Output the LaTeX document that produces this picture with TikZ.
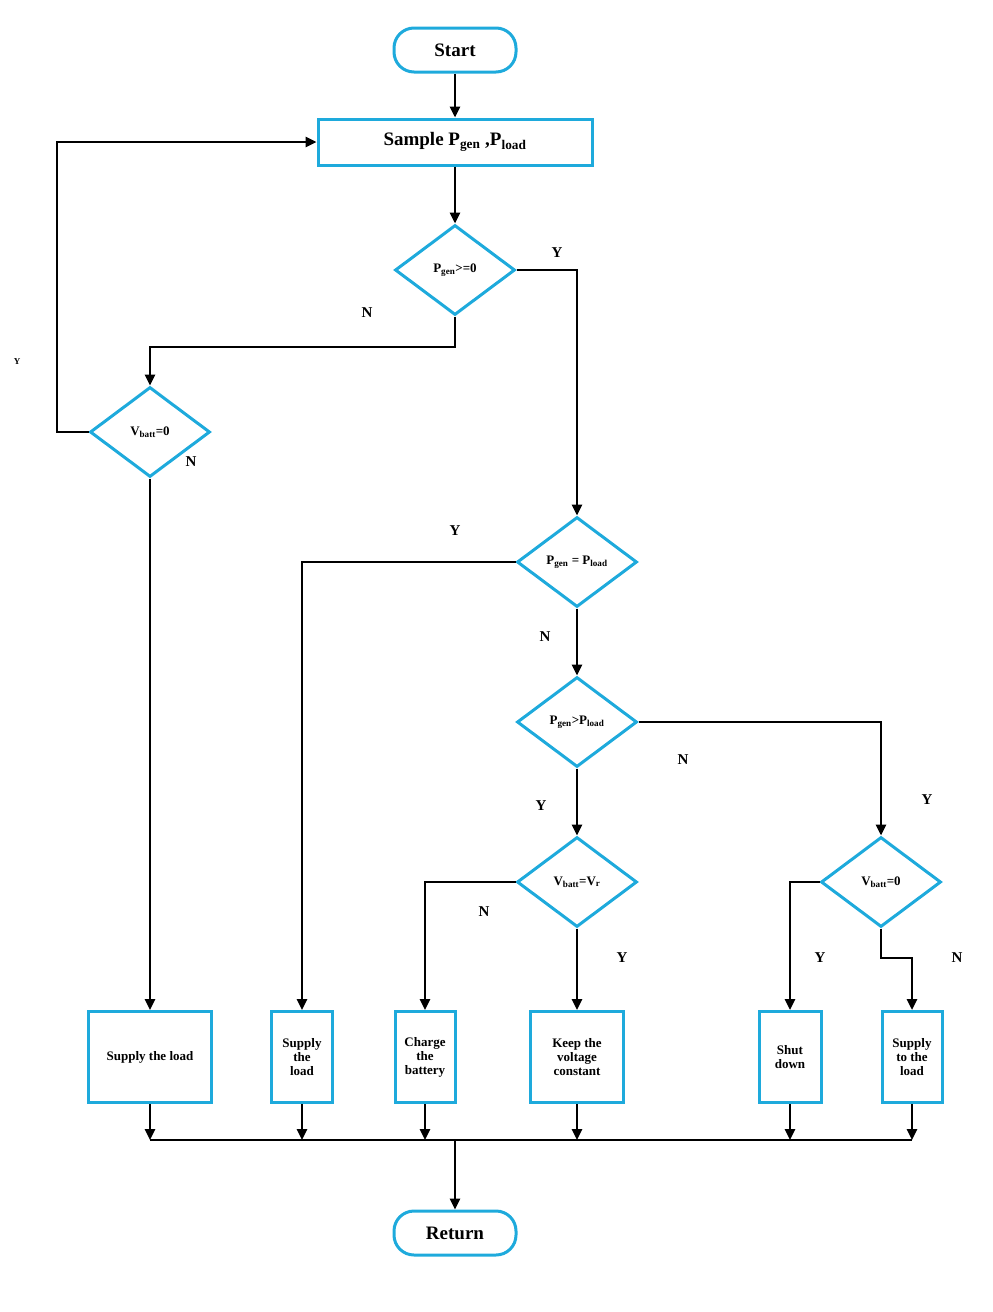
\documentclass[tikz,border=0pt]{standalone}
\usepackage{fontspec}
\setmainfont{Liberation Serif}
\usetikzlibrary{shapes.geometric,arrows.meta}
\definecolor{cy}{RGB}{30,170,220}
\begin{document}
\begin{tikzpicture}[x=1pt,y=-1pt,
 every node/.style={font=\bfseries\fontsize{13}{14}\selectfont},
 term/.style={draw=cy,line width=3pt,rounded corners=20pt,minimum width=122pt,minimum height=44pt,font=\bfseries\fontsize{19}{20}\selectfont},
 box/.style={draw=cy,line width=3pt,inner sep=1pt,align=center},
 dia/.style={draw=cy,line width=3pt,diamond,aspect=1.33,minimum width=120pt,minimum height=90pt,inner sep=0pt},
 ar/.style={draw,line width=2.6pt,-{Triangle[length=11pt,width=10pt]}},
 ln/.style={draw,line width=2.6pt},
 lab/.style={font=\bfseries\fontsize{15}{16}\selectfont}]
\useasboundingbox (0,0) rectangle (993,1312);
\node[term] (start) at (455,50) {Start};
\node[box,minimum width=274pt,minimum height=46pt,font=\bfseries\fontsize{19}{20}\selectfont] (samp) at (455,142) {Sample P\textsubscript{gen} ,P\textsubscript{load}};
\node[dia] (d1) at (455,270) {P\textsubscript{gen}>=0};
\node[dia] (d2) at (150,432) {V\textsubscript{batt}=0};
\node[dia] (d3) at (577,562) {P\textsubscript{gen} = P\textsubscript{load}};
\node[dia] (d4) at (577,722) {P\textsubscript{gen}>P\textsubscript{load}};
\node[dia] (d5) at (577,882) {V\textsubscript{batt}=V\textsubscript{r}};
\node[dia] (d6) at (881,882) {V\textsubscript{batt}=0};
\node[box,minimum width=123pt,minimum height=91pt] (b1) at (150,1057) {Supply the load};
\node[box,minimum width=61pt,minimum height=91pt] (b2) at (302,1057) {Supply\\the\\load};
\node[box,minimum width=60pt,minimum height=91pt] (b3) at (425,1057) {Charge\\the\\battery};
\node[box,minimum width=93pt,minimum height=91pt] (b4) at (577,1057) {Keep the\\voltage\\constant};
\node[box,minimum width=62pt,minimum height=91pt] (b5) at (790,1057) {Shut\\down};
\node[box,minimum width=60pt,minimum height=91pt] (b6) at (912,1057) {Supply\\to the\\load};
\node[term] (ret) at (455,1233) {Return};
\coordinate (bl) at (150,1140); \coordinate (br) at (912,1140); \coordinate (bm) at (455,1140);
\path[ar] (start) -- (samp);
\path[ar] (samp) -- (d1);
\path[ar] (d1.east) -| (d3.north);
\path[ar] (d1.south) |- (150,347) -- (d2.north);
\path[ar] (d2.west) -- (57,432) |- (samp.west);
\path[ar] (d2.south) -- (b1.north);
\path[ar] (d3.west) -| (b2.north);
\path[ar] (d3.south) -- (d4.north);
\path[ar] (d4.south) -- (d5.north);
\path[ar] (d4.east) -| (d6.north);
\path[ar] (d5.west) -| (b3.north);
\path[ar] (d5.south) -- (b4.north);
\path[ar] (d6.west) -| (b5.north);
\path[ar] (d6.south) -- (881,958) -| (b6.north);
\path[ln] (bl) -- (br);
\foreach \b/\x in {b1/150,b2/302,b3/425,b4/577,b5/790,b6/912} \path[ar] (\b.south) -- (\x,1140);
\path[ar] (bm) -- (ret);
\node[lab] at (557,253) {Y};
\node[lab] at (367,313) {N};
\node[font=\bfseries\fontsize{9}{10}\selectfont] at (17,362) {Y};
\node[lab] at (191,462) {N};
\node[lab] at (455,531) {Y};
\node[lab] at (545,637) {N};
\node[lab] at (541,806) {Y};
\node[lab] at (683,760) {N};
\node[lab] at (927,800) {Y};
\node[lab] at (484,912) {N};
\node[lab] at (622,958) {Y};
\node[lab] at (820,958) {Y};
\node[lab] at (957,958) {N};
\end{tikzpicture}
\end{document}
